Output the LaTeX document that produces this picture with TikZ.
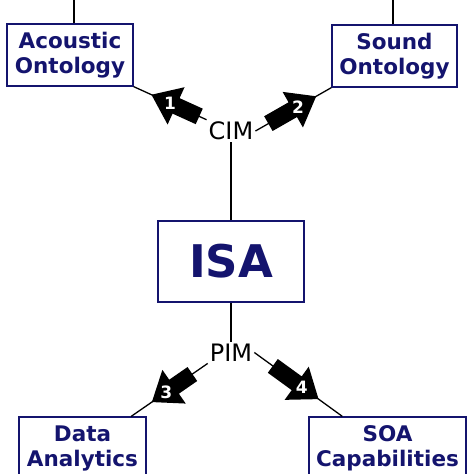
\documentclass[tikz,border=0pt]{standalone}
\usepackage{fontspec}
\setmainfont{DejaVu Sans}
\usetikzlibrary{calc}
\definecolor{isaNavy}{RGB}{20,20,110}

\begin{document}
\begin{tikzpicture}[x=1pt,y=1pt,
	box/.style={draw=isaNavy,line width=1.2pt,text=isaNavy,align=center,inner sep=0pt,
		font=\fontsize{21.5}{25}\selectfont\bfseries,minimum height=62pt},
	layer/.style={font=\fontsize{24}{28}\selectfont,inner sep=2pt},
	link/.style={line width=1.3pt},
	number/.style={text=white,font=\fontsize{17}{17}\selectfont\bfseries,inner sep=0pt}]
	\useasboundingbox (0,0) rectangle (474,474);
	\clip (0,0) rectangle (474,474);
	
	% the boxes
	\node[box,minimum width=126pt] (acoustic) at (70,419) {Acoustic\\Ontology};
	\node[box,minimum width=125pt] (sound) at (394.5,418) {Sound\\Ontology};
	\node[box,minimum width=146pt,minimum height=81pt,font=\fontsize{45}{45}\selectfont\bfseries] (isa) at (231,212.5) {ISA};
	\node[box,minimum width=127pt] (data) at (82.5,26) {Data\\Analytics};
	\node[box,minimum width=157pt] (soa) at (387.5,26) {SOA\\Capabilities};
	
	% the two layers
	\node[layer] (cim) at (231,343) {CIM};
	\node[layer] (pim) at (231,121.5) {PIM};
	
	% lines leaving the top
	\coordinate (acousticTop) at (74,474);
	\coordinate (soundTop) at (393,474);
	\draw[link] (acoustic.north -| acousticTop) -- (acousticTop);
	\draw[link] (sound.north -| soundTop) -- (soundTop);
	
	% ISA to the layers
	\draw[link] (cim) -- (isa);
	\draw[link] (isa) -- (pim);
	
	% numbered arrows
	\foreach \from/\to/\tailPos/\tipPos/\numPos/\num in {cim.north west/acoustic.south east/0.1/0.755/0.5/1,
		cim.east/sound.south west/0.17/0.8/0.56/2,pim.south west/data.33/0.2/0.73/0.54/3,
		pim.east/soa.145/0.21/0.73/0.54/4}
	{
		\draw[link] (\from) -- (\to) coordinate[pos=\tailPos] (tail\num)
			coordinate[pos=\tipPos] (tip\num) coordinate[pos=\numPos] (mark\num);
		\fill let \p1=($(tip\num)-(tail\num)$), \n1={atan2(\y1,\x1)}, \n2={veclen(\x1,\y1)} in
			{[shift={(tail\num)},rotate=\n1] (0,-8.5) -- ({\n2-27},-8.5) -- ({\n2-27},-20.5)
			-- (\n2,0) -- ({\n2-27},20.5) -- ({\n2-27},8.5) -- (0,8.5) -- cycle};
		\node[number] (n\num) at (mark\num) {\num};
	}
	
\end{tikzpicture}
\end{document}
